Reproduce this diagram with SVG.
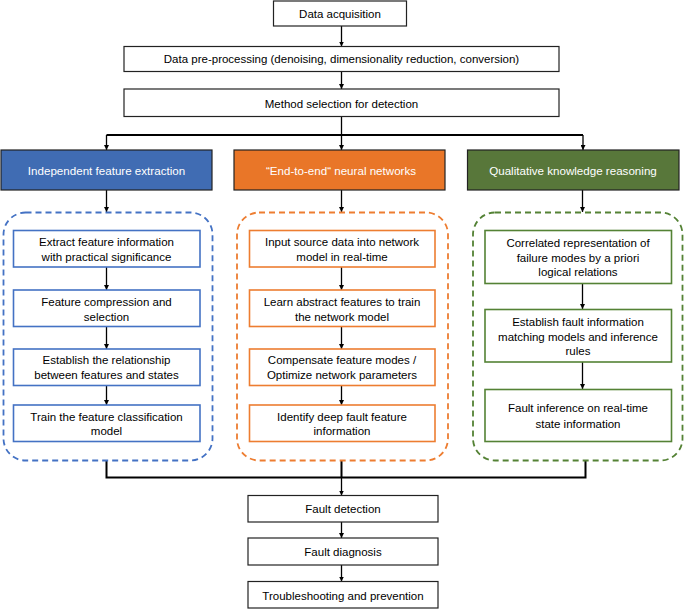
<svg xmlns="http://www.w3.org/2000/svg" width="685" height="609" viewBox="0 0 685 609">
<defs>
<marker id="ah" viewBox="0 0 10 10" refX="10" refY="5" markerWidth="5" markerHeight="5" markerUnits="userSpaceOnUse" orient="auto">
<path d="M0,0 L10,5 L0,10 z" fill="#000"/>
</marker>
<style>
text{font-family:"Liberation Sans",Arial,sans-serif;font-size:11.5px;text-anchor:middle;fill:#000}
.wt{fill:#fff;font-size:11.6px}
.top{fill:#fff;stroke:#222;stroke-width:1.2}
.hb{fill:#406CB3;stroke:#222;stroke-width:1.2}
.ho{fill:#E97628;stroke:#222;stroke-width:1.2}
.hg{fill:#58773A;stroke:#222;stroke-width:1.2}
.ib{fill:#fff;stroke:#4472C4;stroke-width:1.6}
.io{fill:#fff;stroke:#ED7D31;stroke-width:1.6}
.ig{fill:#fff;stroke:#548235;stroke-width:1.6}
.db{fill:none;stroke:#4472C4;stroke-width:1.8;stroke-dasharray:6,4}
.do{fill:none;stroke:#ED7D31;stroke-width:1.8;stroke-dasharray:6,4}
.dg{fill:none;stroke:#548235;stroke-width:1.8;stroke-dasharray:6,4}
.c{fill:none;stroke:#000;stroke-width:1.3}
.a{fill:none;stroke:#000;stroke-width:1.3;marker-end:url(#ah)}
.t{fill:none;stroke:#000;stroke-width:2}
</style>
</defs>

<g id="connectors">
<line class="a" x1="341.5" y1="26" x2="341.5" y2="46.5"/>
<line class="a" x1="341.5" y1="71.5" x2="341.5" y2="89"/>
<line class="c" x1="341.5" y1="116.5" x2="341.5" y2="135"/>
<line class="t" x1="106.5" y1="135" x2="583" y2="135"/>
<line class="a" x1="106.5" y1="135" x2="106.5" y2="150"/>
<line class="a" x1="341.5" y1="135" x2="341.5" y2="150"/>
<line class="a" x1="583" y1="135" x2="583" y2="150"/>
<line class="a" x1="106.5" y1="190" x2="106.5" y2="212"/>
<line class="a" x1="341.5" y1="190" x2="341.5" y2="212"/>
<line class="a" x1="582.5" y1="190" x2="582.5" y2="212"/>
<line class="a" x1="106.5" y1="267" x2="106.5" y2="290"/>
<line class="a" x1="106.5" y1="326.5" x2="106.5" y2="349"/>
<line class="a" x1="106.5" y1="385.5" x2="106.5" y2="405"/>
<line class="a" x1="341.5" y1="267" x2="341.5" y2="290"/>
<line class="a" x1="341.5" y1="326.5" x2="341.5" y2="349"/>
<line class="a" x1="341.5" y1="385.5" x2="341.5" y2="405"/>
<line class="a" x1="582.5" y1="283.5" x2="582.5" y2="309"/>
<line class="a" x1="582.5" y1="362" x2="582.5" y2="389"/>
<polyline class="t" points="106.5,460.5 106.5,477.5 585.5,477.5 585.5,460.5"/>
<line class="t" x1="341.5" y1="460.5" x2="341.5" y2="477.5"/>
<line class="a" x1="341.5" y1="477.5" x2="341.5" y2="495.5"/>
<line class="a" x1="341.5" y1="522" x2="341.5" y2="538"/>
<line class="a" x1="341.5" y1="565" x2="341.5" y2="581.5"/>
</g>

<g id="n-acq"><rect class="top" x="273.5" y="1" width="133" height="25"/><text x="340" y="18">Data acquisition</text></g>
<g id="n-pre"><rect class="top" x="124" y="46.5" width="435" height="25"/><text x="341.5" y="63">Data pre-processing (denoising, dimensionality reduction, conversion)</text></g>
<g id="n-sel"><rect class="top" x="124" y="89" width="435" height="27.5"/><text x="341.5" y="108">Method selection for detection</text></g>

<g id="h-ife"><rect class="hb" x="1" y="150" width="211" height="40"/><text class="wt" x="106.5" y="175">Independent feature extraction</text></g>
<g id="h-e2e"><rect class="ho" x="234" y="150" width="211" height="40"/><text class="wt" x="341" y="175">“End-to-end“ neural networks</text></g>
<g id="h-qkr"><rect class="hg" x="467.5" y="150" width="211.5" height="40"/><text class="wt" x="573" y="175">Qualitative knowledge reasoning</text></g>

<g id="g-ife">
<rect class="db" x="3.5" y="212.5" width="209" height="248" rx="22"/>
<g id="ife1"><rect class="ib" x="13.5" y="230.5" width="186.5" height="36.5"/><text x="106.5" y="245.5">Extract feature information</text><text x="106.5" y="260.5">with practical significance</text></g>
<g id="ife2"><rect class="ib" x="13.5" y="290" width="186.5" height="36.5"/><text x="106.5" y="305.5">Feature compression and</text><text x="106.5" y="320.5">selection</text></g>
<g id="ife3"><rect class="ib" x="13.5" y="349" width="186.5" height="36.5"/><text x="106.5" y="364">Establish the relationship</text><text x="106.5" y="379">between features and states</text></g>
<g id="ife4"><rect class="ib" x="13.5" y="405" width="186.5" height="36.5"/><text x="106.5" y="420.5">Train the feature classification</text><text x="106.5" y="435">model</text></g>
</g>

<g id="g-e2e">
<rect class="do" x="237" y="212.5" width="211" height="248" rx="22"/>
<g id="e2e1"><rect class="io" x="249.5" y="230.5" width="185.5" height="36.5"/><text x="342" y="245.5">Input source data into network</text><text x="342" y="260.5">model in real-time</text></g>
<g id="e2e2"><rect class="io" x="249.5" y="290" width="185.5" height="36.5"/><text x="342" y="305.5">Learn abstract features to train</text><text x="342" y="320.5">the network model</text></g>
<g id="e2e3"><rect class="io" x="249.5" y="349" width="185.5" height="36.5"/><text x="342" y="364">Compensate feature modes /</text><text x="342" y="379">Optimize network parameters</text></g>
<g id="e2e4"><rect class="io" x="249.5" y="405" width="185.5" height="36.5"/><text x="342" y="420.5">Identify deep fault feature</text><text x="342" y="435">information</text></g>
</g>

<g id="g-qkr">
<rect class="dg" x="473" y="212.5" width="209.5" height="248" rx="22"/>
<g id="qkr1"><rect class="ig" x="485" y="230.5" width="186.5" height="53"/><text x="578" y="246.5">Correlated representation of</text><text x="578" y="261.5">failure modes by a priori</text><text x="578" y="276">logical relations</text></g>
<g id="qkr2"><rect class="ig" x="485" y="309.5" width="186.5" height="52.5"/><text x="578" y="325.5">Establish fault information</text><text x="578" y="340.5">matching models and inference</text><text x="578" y="355">rules</text></g>
<g id="qkr3"><rect class="ig" x="485" y="389.5" width="186.5" height="52"/><text x="578" y="412">Fault inference on real-time</text><text x="578" y="428">state information</text></g>
</g>

<g id="n-det"><rect class="top" x="248" y="495.5" width="190" height="26.5"/><text x="343" y="513">Fault detection</text></g>
<g id="n-dia"><rect class="top" x="248" y="538" width="190" height="27"/><text x="343" y="556">Fault diagnosis</text></g>
<g id="n-tro"><rect class="top" x="248" y="581.5" width="190" height="26.5"/><text x="343" y="599.5">Troubleshooting and prevention</text></g>
</svg>
